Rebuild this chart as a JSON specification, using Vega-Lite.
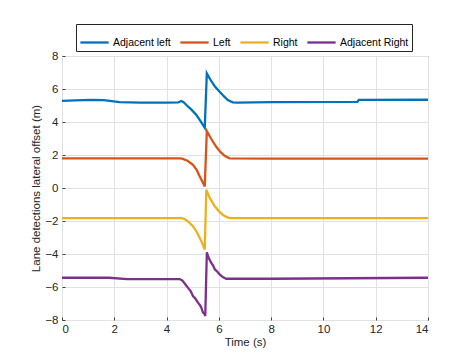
{
  "$schema": "https://vega.github.io/schema/vega-lite/v6.json",
  "autosize": "none",
  "width": 366,
  "height": 264,
  "padding": {"left": 62, "top": 56, "right": 46, "bottom": 35},
  "background": "white",
  "data": {
    "values": [
      {"t": 0, "v": 5.28, "s": "Adjacent left"},
      {"t": 0.5, "v": 5.31, "s": "Adjacent left"},
      {"t": 1.1, "v": 5.34, "s": "Adjacent left"},
      {"t": 1.6, "v": 5.32, "s": "Adjacent left"},
      {"t": 2.2, "v": 5.2, "s": "Adjacent left"},
      {"t": 3, "v": 5.17, "s": "Adjacent left"},
      {"t": 4, "v": 5.18, "s": "Adjacent left"},
      {"t": 4.45, "v": 5.19, "s": "Adjacent left"},
      {"t": 4.57, "v": 5.27, "s": "Adjacent left"},
      {"t": 4.65, "v": 5.2, "s": "Adjacent left"},
      {"t": 4.76, "v": 5.03, "s": "Adjacent left"},
      {"t": 4.95, "v": 4.75, "s": "Adjacent left"},
      {"t": 5.14, "v": 4.42, "s": "Adjacent left"},
      {"t": 5.3, "v": 4.05, "s": "Adjacent left"},
      {"t": 5.39, "v": 3.82, "s": "Adjacent left"},
      {"t": 5.46, "v": 3.65, "s": "Adjacent left"},
      {"t": 5.54, "v": 6.95, "s": "Adjacent left"},
      {"t": 5.7, "v": 6.5, "s": "Adjacent left"},
      {"t": 5.85, "v": 6.15, "s": "Adjacent left"},
      {"t": 6.03, "v": 5.83, "s": "Adjacent left"},
      {"t": 6.2, "v": 5.55, "s": "Adjacent left"},
      {"t": 6.34, "v": 5.33, "s": "Adjacent left"},
      {"t": 6.53, "v": 5.19, "s": "Adjacent left"},
      {"t": 6.7, "v": 5.18, "s": "Adjacent left"},
      {"t": 8, "v": 5.2, "s": "Adjacent left"},
      {"t": 11.3, "v": 5.22, "s": "Adjacent left"},
      {"t": 11.35, "v": 5.34, "s": "Adjacent left"},
      {"t": 14, "v": 5.35, "s": "Adjacent left"},

      {"t": 0, "v": 1.8, "s": "Left"},
      {"t": 4.5, "v": 1.8, "s": "Left"},
      {"t": 4.6, "v": 1.78, "s": "Left"},
      {"t": 4.8, "v": 1.65, "s": "Left"},
      {"t": 5.01, "v": 1.4, "s": "Left"},
      {"t": 5.15, "v": 1.1, "s": "Left"},
      {"t": 5.27, "v": 0.7, "s": "Left"},
      {"t": 5.38, "v": 0.35, "s": "Left"},
      {"t": 5.46, "v": 0.09, "s": "Left"},
      {"t": 5.54, "v": 3.45, "s": "Left"},
      {"t": 5.7, "v": 3.0, "s": "Left"},
      {"t": 5.9, "v": 2.5, "s": "Left"},
      {"t": 6.05, "v": 2.2, "s": "Left"},
      {"t": 6.22, "v": 1.95, "s": "Left"},
      {"t": 6.41, "v": 1.8, "s": "Left"},
      {"t": 8, "v": 1.78, "s": "Left"},
      {"t": 14, "v": 1.78, "s": "Left"},

      {"t": 0, "v": -1.82, "s": "Right"},
      {"t": 4.55, "v": -1.82, "s": "Right"},
      {"t": 4.65, "v": -1.85, "s": "Right"},
      {"t": 4.8, "v": -2.0, "s": "Right"},
      {"t": 5.01, "v": -2.32, "s": "Right"},
      {"t": 5.15, "v": -2.65, "s": "Right"},
      {"t": 5.27, "v": -3.03, "s": "Right"},
      {"t": 5.38, "v": -3.4, "s": "Right"},
      {"t": 5.46, "v": -3.73, "s": "Right"},
      {"t": 5.52, "v": -0.11, "s": "Right"},
      {"t": 5.65, "v": -0.6, "s": "Right"},
      {"t": 5.85, "v": -1.12, "s": "Right"},
      {"t": 6.0, "v": -1.4, "s": "Right"},
      {"t": 6.15, "v": -1.62, "s": "Right"},
      {"t": 6.28, "v": -1.75, "s": "Right"},
      {"t": 6.41, "v": -1.82, "s": "Right"},
      {"t": 14, "v": -1.82, "s": "Right"},

      {"t": 0, "v": -5.44, "s": "Adjacent Right"},
      {"t": 1.8, "v": -5.44, "s": "Adjacent Right"},
      {"t": 2.5, "v": -5.52, "s": "Adjacent Right"},
      {"t": 4.5, "v": -5.52, "s": "Adjacent Right"},
      {"t": 4.6, "v": -5.6, "s": "Adjacent Right"},
      {"t": 4.7, "v": -5.8, "s": "Adjacent Right"},
      {"t": 4.82, "v": -6.05, "s": "Adjacent Right"},
      {"t": 4.92, "v": -6.25, "s": "Adjacent Right"},
      {"t": 5.01, "v": -6.55, "s": "Adjacent Right"},
      {"t": 5.1, "v": -6.7, "s": "Adjacent Right"},
      {"t": 5.2, "v": -6.95, "s": "Adjacent Right"},
      {"t": 5.28, "v": -7.1, "s": "Adjacent Right"},
      {"t": 5.33, "v": -7.25, "s": "Adjacent Right"},
      {"t": 5.39, "v": -7.55, "s": "Adjacent Right"},
      {"t": 5.44, "v": -7.6, "s": "Adjacent Right"},
      {"t": 5.48, "v": -7.76, "s": "Adjacent Right"},
      {"t": 5.54, "v": -3.9, "s": "Adjacent Right"},
      {"t": 5.6, "v": -4.2, "s": "Adjacent Right"},
      {"t": 5.71, "v": -4.54, "s": "Adjacent Right"},
      {"t": 5.78, "v": -4.7, "s": "Adjacent Right"},
      {"t": 5.85, "v": -4.94, "s": "Adjacent Right"},
      {"t": 5.93, "v": -5.05, "s": "Adjacent Right"},
      {"t": 6.03, "v": -5.24, "s": "Adjacent Right"},
      {"t": 6.15, "v": -5.4, "s": "Adjacent Right"},
      {"t": 6.28, "v": -5.5, "s": "Adjacent Right"},
      {"t": 8, "v": -5.5, "s": "Adjacent Right"},
      {"t": 14, "v": -5.44, "s": "Adjacent Right"}
    ]
  },
  "mark": {"type": "line", "strokeWidth": 2.3, "clip": true},
  "encoding": {
    "x": {
      "field": "t", "type": "quantitative", "title": "Time (s)",
      "scale": {"domain": [0, 14], "nice": false, "zero": false},
      "axis": {"values": [0, 2, 4, 6, 8, 10, 12, 14]}
    },
    "y": {
      "field": "v", "type": "quantitative", "title": "Lane detections lateral offset (m)",
      "scale": {"domain": [-8, 8], "nice": false, "zero": false},
      "axis": {"values": [-8, -6, -4, -2, 0, 2, 4, 6, 8]}
    },
    "color": {
      "field": "s", "type": "nominal",
      "scale": {
        "domain": ["Adjacent left", "Left", "Right", "Adjacent Right"],
        "range": ["#0072BD", "#D95319", "#EDB120", "#7E2F8E"]
      },
      "legend": {
        "title": null,
        "orient": "none",
        "legendX": 14,
        "legendY": -32,
        "direction": "horizontal",
        "symbolType": "stroke",
        "symbolSize": 800,
        "symbolStrokeWidth": 2.3,
        "labelFontSize": 10.5,
        "labelFont": "Liberation Sans",
        "labelColor": "#000000",
        "labelOffset": 3,
        "columnPadding": 4,
        "padding": 3,
        "strokeColor": "#262626",
        "fillColor": "white"
      }
    }
  },
  "config": {
    "font": "Liberation Sans",
    "view": {"stroke": "#404040", "strokeWidth": 1},
    "axis": {
      "domain": false,
      "grid": true,
      "gridColor": "#e2e2e2",
      "gridWidth": 1,
      "ticks": true,
      "tickColor": "#404040",
      "tickSize": -3,
      "labelFontSize": 11.5,
      "labelColor": "#262626",
      "labelFont": "Liberation Sans",
      "titleFont": "Liberation Sans",
      "titleFontSize": 11.5,
      "titleFontWeight": "normal",
      "titleColor": "#262626"
    },
    "axisX": {"labelPadding": 6, "titlePadding": 2},
    "axisY": {"labelPadding": 7, "titlePadding": 3}
  }
}
